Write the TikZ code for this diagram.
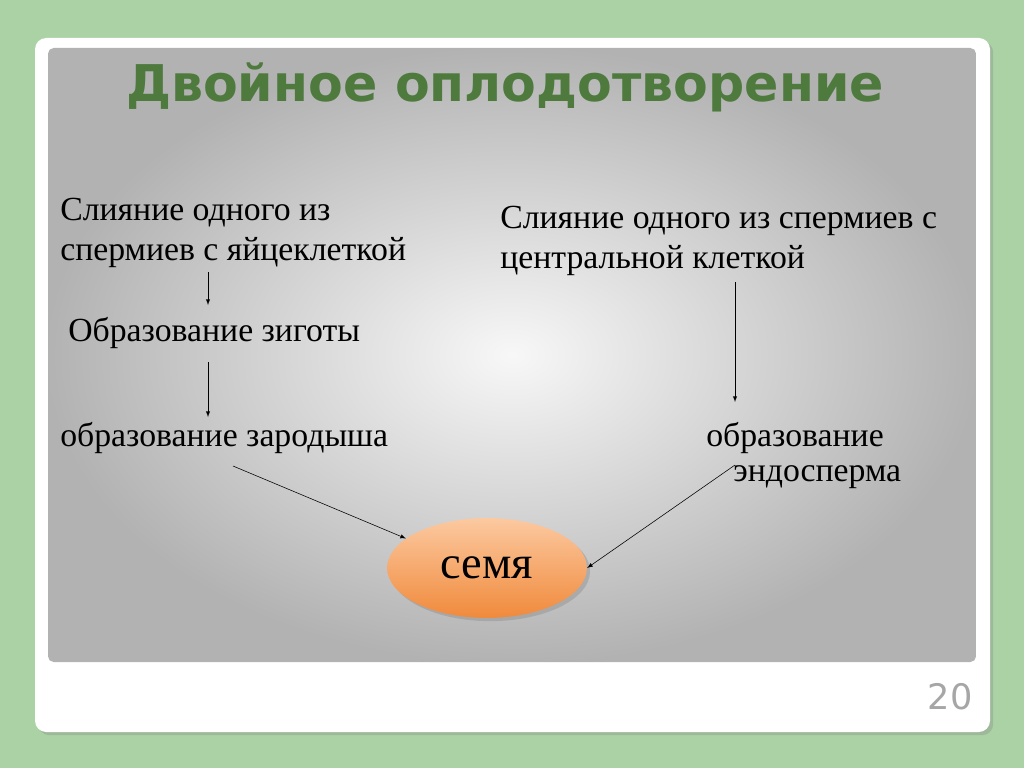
\documentclass[tikz,border=0pt]{standalone}
\usepackage{fontspec}
\setmainfont{Liberation Serif}
\newfontfamily\titlefont{DejaVu Sans}
\usetikzlibrary{positioning,shapes.geometric,shadows}
\definecolor{bggreen}{HTML}{AAD2A5}
\definecolor{titlegreen}{HTML}{4E7A3E}
\definecolor{seedlight}{HTML}{FCC9A0}
\definecolor{seeddark}{HTML}{F08A3C}
\tikzset{
	txt/.style={anchor=west, inner sep=0pt, font=\fontsize{24}{29}\selectfont, align=left},
	arr/.style={->, >=latex, thin, black},
}
\begin{document}
\begin{tikzpicture}[x=0.025cm, y=-0.025cm]
		\useasboundingbox (0, 0) rectangle (1024, 768);
		\fill[bggreen] (0, 0) rectangle (1024, 768);
		\fill[white, rounded corners=8pt, drop shadow={opacity=0.3}] (35, 38) rectangle (990, 732);
		\shade[inner color=gray!6, outer color=gray!60, rounded corners=4pt] (48, 48) rectangle (976, 662);

		\node[font=\titlefont\bfseries\fontsize{36}{40}\selectfont, text=titlegreen] (title) at (505, 87) {Двойное оплодотворение};

		\node[txt, align=left] (fuse1) at (60, 233) {Слияние одного из\\спермиев с яйцеклеткой};
		\node[txt] (zygote) at (68, 333) {Образование зиготы};
		\node[txt] (embryo) at (60, 438) {образование зародыша};
		\node[txt] (fuse2) at (500, 241) {Слияние одного из спермиев с\\центральной клеткой};
		\node[txt] (endo1) at (706, 438) {образование};
		\node[txt] (endo2) at (733, 477) {эндосперма};

		\node[ellipse, minimum width=142pt, minimum height=71pt, top color=seedlight, bottom color=seeddark,
			drop shadow={opacity=0.35}, font=\fontsize{33}{36}\selectfont] (seed) at (487, 568) {семя};

		\draw[arr] (208, 272) to (208, 305);
		\draw[arr] (208, 362) to (208, 417);
		\draw[arr] (233, 466) to (seed.160);
		\draw[arr] (735, 282) to (735, 402);
		\draw[arr] (735, 465) to (seed.east);

		\node[font=\titlefont\fontsize{25}{28}\selectfont, text=gray!70] (page) at (950, 697) {20};
	\end{tikzpicture}
\end{document}
